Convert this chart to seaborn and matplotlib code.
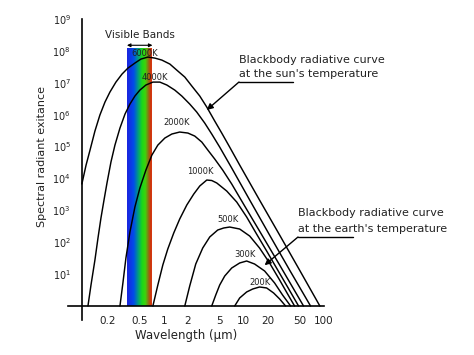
import numpy as np
import pandas as pd
import seaborn as sns
import matplotlib
matplotlib.use("Agg")
import matplotlib.pyplot as plt
from matplotlib.colors import LinearSegmentedColormap
from matplotlib.lines import Line2D

# ---------------- data ----------------
temps = ["6000K", "4000K", "2000K", "1000K", "500K", "300K", "200K"]

wl_6000 = [0.094, 0.106, 0.119, 0.137, 0.158, 0.183, 0.211, 0.251, 0.299, 0.355, 0.434, 0.516, 0.631,
           0.772, 0.944, 1.19, 1.45, 1.83, 2.24, 2.82, 3.45, 4.34, 5.31, 6.68, 8.91, 15.8, 28.2, 50.1, 90.0]
ex_6000 = [6.7e3, 2.6e4, 7.8e4, 3.06e5, 9.7e5, 2.48e6, 5.1e6, 1.05e7, 1.87e7, 2.89e7, 4.15e7, 5.53e7, 6.4e7,
           5.94e7, 5.15e7, 3.86e7, 2.5e7, 1.51e7, 7.9e6, 3.83e6, 1.73e6, 6.3e5, 2.65e5, 9.6e4, 2.63e4, 2.1e3, 168, 13.4, 1.0]

wl_4000 = [0.112, 0.1223, 0.137, 0.1496, 0.163, 0.178, 0.194, 0.2175, 0.244, 0.282, 0.326, 0.376, 0.434, 0.501,
           0.596, 0.729, 0.891, 1.09, 1.37, 1.68, 2.11, 2.58, 3.25, 3.98, 5.01, 7.08, 11.9, 21.1, 37.6, 68.8]
ex_4000 = [1.0, 4.55, 27.7, 135, 574, 2.1e3, 7.2e3, 3.27e4, 1.11e5, 3.8e5, 1.04e6, 2.15e6, 3.83e6, 5.9e6,
           8.5e6, 1.05e7, 1.05e7, 8.5e6, 5.9e6, 3.83e6, 2.15e6, 1.21e6, 5.46e5, 2.47e5, 9.6e4, 2.12e4, 2.1e3, 168, 13.4, 1.0]

wl_2000 = [0.282, 0.307, 0.335, 0.376, 0.434, 0.501, 0.596, 0.708, 0.841, 1.03, 1.26, 1.58, 2.0, 2.44, 2.99,
           3.55, 4.34, 5.46, 7.08, 10.3, 15.8, 28.2, 56.2]
ex_2000 = [1.0, 5.26, 32, 209, 1.27e3, 5.0e3, 1.83e4, 5.4e4, 1.11e5, 1.85e5, 2.47e5, 2.85e5, 2.65e5, 2.13e5, 1.38e5,
           7.8e4, 4.06e4, 1.83e4, 6.7e3, 1.36e3, 224, 19.3, 1.0]

wl_1000 = [0.729, 0.841, 0.971, 1.12, 1.33, 1.58, 1.94, 2.37, 2.82, 3.45, 3.98, 4.60, 6.13, 8.18, 10.9, 14.5, 19.4,
           25.8, 35.5, 48.7]
ex_1000 = [1.0, 4.55, 19.3, 61, 194, 533, 1.47e3, 3.24e3, 5.8e3, 8.9e3, 8.6e3, 7.2e3, 4.03e3, 1.82e3, 617, 181, 53,
           15.5, 3.94, 1.0]

wl_500 = [1.83, 2.11, 2.51, 3.07, 3.76, 4.73, 5.62, 6.68, 8.91, 11.9, 15.8, 21.1, 28.2, 35.5, 43.4]
ex_500 = [1.0, 4.24, 20.7, 65.8, 146, 241, 279, 299, 259, 156, 65.8, 22.3, 6.53, 2.38, 1.0]

wl_300 = [3.98, 4.47, 5.01, 5.79, 7.08, 8.91, 10.9, 13.7, 18.3, 24.4, 30.7, 38.7]
ex_300 = [1.0, 2.21, 4.55, 8.7, 15.5, 22.3, 25.7, 20.7, 12.5, 5.26, 2.21, 1.0]

wl_200 = [7.72, 8.91, 10.9, 13.0, 15.8, 19.4, 23.7, 28.2, 33.5]
ex_200 = [1.0, 1.78, 2.75, 3.41, 3.94, 3.67, 2.56, 1.66, 1.0]

label_wl = [0.579, 0.772, 1.45, 2.90, 6.31, 10.3, 15.8]
label_ex = [8.5e7, 1.5e7, 5.5e5, 1.7e4, 530, 40, 5.6]

x_ticks = [0.2, 0.5, 1, 2, 5, 10, 20, 50, 100]
x_tick_labels = ["0.2", "0.5", "1", "2", "5", "10", "20", "50", "100"]
y_exponents = [1, 2, 3, 4, 5, 6, 7, 8, 9]

visible_band = [0.345, 0.72]
visible_top = 1.25e8

# ---------------- build table ----------------
series = [(wl_6000, ex_6000), (wl_4000, ex_4000), (wl_2000, ex_2000), (wl_1000, ex_1000),
          (wl_500, ex_500), (wl_300, ex_300), (wl_200, ex_200)]
rows = []
for t, (wl, ex) in zip(temps, series):
    for w, e in zip(wl, ex):
        rows.append({"temp": t, "wavelength": w, "exitance": e})
df = pd.DataFrame(rows)

# ---------------- figure ----------------
sns.set_style("white")
plt.rcParams["font.family"] = ["DejaVu Sans"]
plt.rcParams["mathtext.fontset"] = "dejavusans"
TXT = "#222222"

W, H = 474, 355
fig = plt.figure(figsize=(W / 100, H / 100), dpi=100)
ax = fig.add_axes([68 / W, 1 - 320 / H, (323.5 - 68) / W, (320 - 19) / H])
ax.set_xscale("log")
ax.set_yscale("log")
ax.set_xlim(0.063, 100)
ax.set_ylim(10 ** -0.44, 1e9)

# visible band gradient
cmap = LinearSegmentedColormap.from_list("vis", [
    (0.00, (0.10, 0.15, 0.88)),
    (0.18, (0.00, 0.30, 0.92)),
    (0.33, (0.00, 0.62, 0.50)),
    (0.48, (0.10, 0.85, 0.10)),
    (0.62, (0.25, 0.82, 0.05)),
    (0.76, (0.55, 0.45, 0.08)),
    (0.87, (0.80, 0.22, 0.05)),
    (1.00, (0.88, 0.22, 0.10)),
])
grad = np.linspace(0, 1, 256).reshape(1, -1)
ax.imshow(grad, cmap=cmap, aspect="auto", interpolation="bilinear",
          extent=[visible_band[0], visible_band[1], 1.0, visible_top], zorder=1)

sns.lineplot(data=df, x="wavelength", y="exitance", units="temp", estimator=None,
             sort=False, color="black", linewidth=1.05, ax=ax, zorder=3, legend=False)

for t, lw_, le_ in zip(temps, label_wl, label_ex):
    ax.text(lw_, le_, t, fontsize=6, ha="center", va="center", color=TXT, zorder=4)

# axes styling
for s in ["top", "right"]:
    ax.spines[s].set_visible(False)
ax.spines["left"].set_position(("data", 0.094))
ax.spines["bottom"].set_position(("data", 1.0))
for s in ["left", "bottom"]:
    ax.spines[s].set_color("black")
    ax.spines[s].set_linewidth(1.2)
ax.minorticks_off()
ax.set_xticks(x_ticks)
ax.set_xticklabels(x_tick_labels)
ax.set_yticks([10.0 ** e for e in y_exponents])
ax.set_yticklabels([f"$10^{{{e}}}$" for e in y_exponents])
ax.tick_params(axis="x", direction="out", length=5, width=1.1, labelsize=7.5, pad=2, colors="black", labelcolor=TXT)
ax.tick_params(axis="y", direction="out", length=6, width=1.1, labelsize=7, pad=2, colors="black", labelcolor=TXT)
ax.set_xlabel("")
ax.set_ylabel("")

fig.text(42 / W, 1 - 156 / H, "Spectral radiant exitance", rotation=90, ha="center", va="center",
         fontsize=8, color=TXT)
fig.text(186 / W, 1 - 335 / H, "Wavelength (\u00b5m)", ha="center", va="center", fontsize=8.5, color=TXT)

# visible bands arrow + label
ax.annotate("", xy=(visible_band[0], 1.5e8), xytext=(visible_band[1], 1.5e8),
            arrowprops=dict(arrowstyle="<|-|>", color="black", lw=0.8, mutation_scale=5,
                            shrinkA=0, shrinkB=0), annotation_clip=False)
ax.text(0.50, 3.2e8, "Visible Bands", ha="center", va="center", fontsize=7.5, color=TXT)

def ff(px, py):
    return (px / W, 1 - py / H)

# sun annotation
fig.text(*ff(239, 60), "Blackbody radiative curve", ha="left", va="center", fontsize=8, color=TXT)
fig.text(*ff(239, 74), "at the sun's temperature", ha="left", va="center", fontsize=8, color=TXT)
fig.add_artist(Line2D([239 / W, 293 / W], [1 - 82 / H] * 2, transform=fig.transFigure, color="black", lw=1))
ax.annotate("", xy=(3.45, 1.4e6), xycoords="data", xytext=ff(239, 82), textcoords="figure fraction",
            arrowprops=dict(arrowstyle="-|>", color="black", lw=1, mutation_scale=9, shrinkA=0, shrinkB=0),
            annotation_clip=False)

# earth annotation
fig.text(*ff(298, 213), "Blackbody radiative curve", ha="left", va="center", fontsize=8, color=TXT)
fig.text(*ff(298, 229), "at the earth's temperature", ha="left", va="center", fontsize=8, color=TXT)
fig.add_artist(Line2D([298 / W, 353 / W], [1 - 237 / H] * 2, transform=fig.transFigure, color="black", lw=1))
ax.annotate("", xy=(18.3, 19), xycoords="data", xytext=ff(298, 237), textcoords="figure fraction",
            arrowprops=dict(arrowstyle="-|>", color="black", lw=1, mutation_scale=9, shrinkA=0, shrinkB=0),
            annotation_clip=False)

fig.savefig("out.png", dpi=100, facecolor="white")
